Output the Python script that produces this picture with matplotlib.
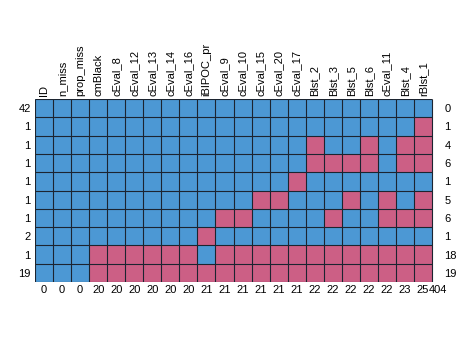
import numpy as np
import matplotlib
matplotlib.use("Agg")
import matplotlib.pyplot as plt
from matplotlib.colors import ListedColormap

plt.rcParams["font.family"] = ["Liberation Sans", "DejaVu Sans"]

# variables, ordered by number of missing values
variables = ["ID", "n_miss", "prop_miss", "cmBlack", "cEval_8", "cEval_12",
             "cEval_13", "cEval_14", "cEval_16", "iBIPOC_pr", "cEval_9",
             "cEval_10", "cEval_15", "cEval_20", "cEval_17", "Blst_2",
             "Blst_3", "Blst_5", "Blst_6", "cEval_11", "Blst_4", "rBlst_1"]

# one row per missingness pattern: 1 = observed, 0 = missing
patterns = [
    [1, 1, 1, 1, 1, 1, 1, 1, 1, 1, 1, 1, 1, 1, 1, 1, 1, 1, 1, 1, 1, 1],
    [1, 1, 1, 1, 1, 1, 1, 1, 1, 1, 1, 1, 1, 1, 1, 1, 1, 1, 1, 1, 1, 0],
    [1, 1, 1, 1, 1, 1, 1, 1, 1, 1, 1, 1, 1, 1, 1, 0, 1, 1, 0, 1, 0, 0],
    [1, 1, 1, 1, 1, 1, 1, 1, 1, 1, 1, 1, 1, 1, 1, 0, 0, 0, 0, 1, 0, 0],
    [1, 1, 1, 1, 1, 1, 1, 1, 1, 1, 1, 1, 1, 1, 0, 1, 1, 1, 1, 1, 1, 1],
    [1, 1, 1, 1, 1, 1, 1, 1, 1, 1, 1, 1, 0, 0, 1, 1, 1, 0, 1, 0, 1, 0],
    [1, 1, 1, 1, 1, 1, 1, 1, 1, 1, 0, 0, 1, 1, 1, 1, 0, 1, 1, 0, 0, 0],
    [1, 1, 1, 1, 1, 1, 1, 1, 1, 0, 1, 1, 1, 1, 1, 1, 1, 1, 1, 1, 1, 1],
    [1, 1, 1, 0, 0, 0, 0, 0, 0, 1, 0, 0, 0, 0, 0, 0, 0, 0, 0, 0, 0, 0],
    [1, 1, 1, 0, 0, 0, 0, 0, 0, 0, 0, 0, 0, 0, 0, 0, 0, 0, 0, 0, 0, 0],
]
pattern_counts = [42, 1, 1, 1, 1, 1, 1, 2, 1, 19]

grid = np.array(patterns)
counts = np.array(pattern_counts)
n_rows, n_cols = grid.shape

missing_per_row = (grid == 0).sum(axis=1)
missing_per_var = ((grid == 0) * counts[:, None]).sum(axis=0)
total_missing = missing_per_var.sum()

blue = "#4C98D4"
pink = "#CC5F85"
line_col = "#1c2430"

fig = plt.figure(figsize=(4.74, 3.38), dpi=100)
ax = fig.add_axes([35 / 474, 56 / 338, 403 / 474, 183 / 338])

ax.pcolormesh(np.arange(n_cols + 1), np.arange(n_rows + 1), grid,
              cmap=ListedColormap([pink, blue]), vmin=0, vmax=1,
              edgecolors="none", antialiased=False)
# cell borders
ax.vlines(np.arange(n_cols + 1), 0, n_rows, colors=line_col, linewidth=0.8)
ax.hlines(np.arange(n_rows + 1), 0, n_cols, colors=line_col, linewidth=0.8)
ax.set_xlim(0, n_cols)
ax.set_ylim(n_rows, 0)
for s in ax.spines.values():
    s.set_visible(False)

fs = 8
# pattern frequencies on the left
ax.set_yticks(np.arange(n_rows) + 0.5)
ax.set_yticklabels([str(c) for c in counts], fontsize=fs)
ax.tick_params(axis="y", length=0, pad=3)

# missing counts per variable along the bottom, plus the overall total
ax.set_xticks(list(np.arange(n_cols) + 0.5) + [n_cols + 0.33])
ax.set_xticklabels([str(v) for v in missing_per_var] + [str(total_missing)],
                   fontsize=fs)
ax.tick_params(axis="x", length=0, pad=2)

# variable names on top
top = ax.secondary_xaxis("top")
top.set_xticks(np.arange(n_cols) + 0.5)
top.set_xticklabels(variables, rotation=90, fontsize=fs)
top.tick_params(length=0, pad=2)
top.spines["top"].set_visible(False)

# number of missing variables per pattern on the right
right = ax.secondary_yaxis("right")
right.set_yticks(np.arange(n_rows) + 0.5)
right.set_yticklabels([str(m) for m in missing_per_row], fontsize=fs)
right.tick_params(length=0, pad=4.5)
right.spines["right"].set_visible(False)

fig.savefig("out.png", dpi=100)
